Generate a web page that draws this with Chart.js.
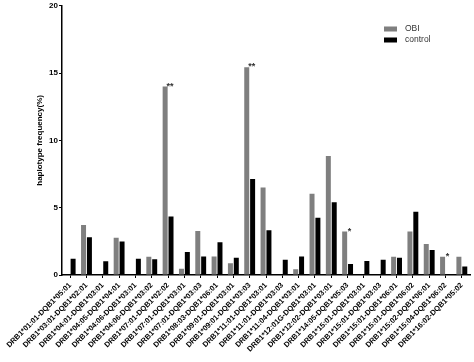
<!DOCTYPE html>
<html>
<head>
<meta charset="utf-8">
<script src="https://cdn.jsdelivr.net/npm/chart.js@4"></script>
<style>
  html, body { margin: 0; padding: 0; background: #fff; }
  #wrap { width: 474px; height: 362px; }
</style>
</head>
<body>
<div id="wrap"><canvas id="hapChart" width="474" height="362"></canvas></div>
<script>
const haplotypes = [
  'DRB1*01:01-DQB1*05:01', 'DRB1*03:01-DQB1*02:01', 'DRB1*04:01-DQB1*03:01',
  'DRB1*04:05-DQB1*04:01', 'DRB1*04:06-DQB1*03:01', 'DRB1*04:06-DQB1*03:02',
  'DRB1*07:01-DQB1*02:02', 'DRB1*07:01-DQB1*03:01', 'DRB1*07:01-DQB1*03:03',
  'DRB1*08:03-DQB1*06:01', 'DRB1*09:01-DQB1*03:01', 'DRB1*09:01-DQB1*03:03',
  'DRB1*11:01-DQB1*03:01', 'DRB1*11:01-DQB1*03:03', 'DRB1*11:04-DQB1*03:01',
  'DRB1*12:01G-DQB1*03:01', 'DRB1*12:02-DQB1*03:01', 'DRB1*14:05-DQB1*05:03',
  'DRB1*15:01-DQB1*03:01', 'DRB1*15:01-DQB1*03:03', 'DRB1*15:01-DQB1*06:01',
  'DRB1*15:01-DQB1*06:02', 'DRB1*15:02-DQB1*06:01', 'DRB1*15:04-DQB1*06:02',
  'DRB1*16:02-DQB1*05:02'
];

const obiValues = [
  0, 3.72, 0, 2.76, 0, 1.35, 14.0, 0.46, 3.27, 1.37, 0.88, 15.43, 6.5,
  0, 0.43, 6.03, 8.85, 3.23, 0, 0, 1.36, 3.23, 2.3, 1.36, 1.36
];

const controlValues = [
  1.2, 2.8, 1.03, 2.49, 1.2, 1.17, 4.34, 1.7, 1.37, 2.44, 1.28, 7.14, 3.33,
  1.13, 1.37, 4.25, 5.4, 0.82, 1.04, 1.14, 1.28, 4.7, 1.85, 0, 0.64
];

// significance marks above the OBI bars
const significance = [
  '', '', '', '', '', '', '**', '', '', '', '', '**', '',
  '', '', '', '', '*', '', '', '', '', '', '*', ''
];

const yTicks = [0, 5, 10, 15, 20];

const starPlugin = {
  id: 'stars',
  afterDatasetsDraw(chart) {
    const ctx = chart.ctx;
    const x = chart.scales.x;
    const y = chart.scales.y;
    ctx.save();
    ctx.fillStyle = '#333';
    ctx.font = 'bold 9px "Liberation Sans", Arial, sans-serif';
    ctx.textAlign = 'center';
    ctx.textBaseline = 'alphabetic';
    significance.forEach((s, i) => {
      if (!s) return;
      const top = y.getPixelForValue(obiValues[i]);
      ctx.fillText(s, x.getPixelForValue(i) + 2, top + 2);
    });
    ctx.restore();
  }
};

const legendPlugin = {
  id: 'cornerLegend',
  afterDraw(chart) {
    const ctx = chart.ctx;
    ctx.save();
    ctx.font = '8.5px "Liberation Sans", Arial, sans-serif';
    ctx.textBaseline = 'middle';
    chart.data.datasets.forEach((ds, i) => {
      const cy = 29 + i * 11;
      ctx.fillStyle = ds.backgroundColor;
      ctx.fillRect(384, cy - 2.5, 13, 5);
      ctx.fillStyle = '#333';
      ctx.fillText(ds.label, 405, cy);
    });
    ctx.restore();
  }
};

const ctx = document.getElementById('hapChart').getContext('2d');
const hapChart = new Chart(ctx, {
  type: 'bar',
  data: {
    labels: haplotypes,
    datasets: [{
      label: 'OBI',
      data: obiValues,
      backgroundColor: '#7f7f7f'
    }, {
      label: 'control',
      data: controlValues,
      backgroundColor: '#000000'
    }]
  },
  options: {
    responsive: false,
    animation: false,
    categoryPercentage: 0.72,
    barPercentage: 0.85,
    layout: { padding: { top: 5, right: 4, left: 35, bottom: 0 } },
    plugins: {
      legend: { display: false },
      tooltip: { enabled: false }
    },
    scales: {
      x: {
        grid: {
          offset: false,
          drawOnChartArea: false,
          drawTicks: true,
          tickLength: 3,
          color: '#000',
          lineWidth: 1
        },
        border: { color: '#000', width: 1.5 },
        ticks: {
          autoSkip: false,
          minRotation: 45,
          maxRotation: 45,
          padding: 3,
          color: '#000',
          font: { family: '"Liberation Sans", Arial, sans-serif', size: 7.5, weight: 'bold' }
        },
        afterFit(scale) { scale.height = 87; }
      },
      y: {
        min: 0,
        max: 20,
        afterBuildTicks(scale) { scale.ticks = yTicks.map(v => ({ value: v })); },
        grid: {
          drawOnChartArea: false,
          drawTicks: true,
          tickLength: 3,
          color: '#000'
        },
        border: { color: '#000', width: 1.5 },
        ticks: {
          padding: 1,
          color: '#000',
          font: { family: '"Liberation Sans", Arial, sans-serif', size: 8, weight: 'bold' }
        },
        title: {
          display: true,
          text: 'haplotype frequency(%)',
          color: '#000',
          padding: { top: 0, bottom: 0 },
          font: { family: '"Liberation Sans", Arial, sans-serif', size: 8, weight: 'bold' }
        },
        afterFit(scale) { scale.width = 27; }
      }
    }
  },
  plugins: [starPlugin, legendPlugin]
});
</script>
</body>
</html>
